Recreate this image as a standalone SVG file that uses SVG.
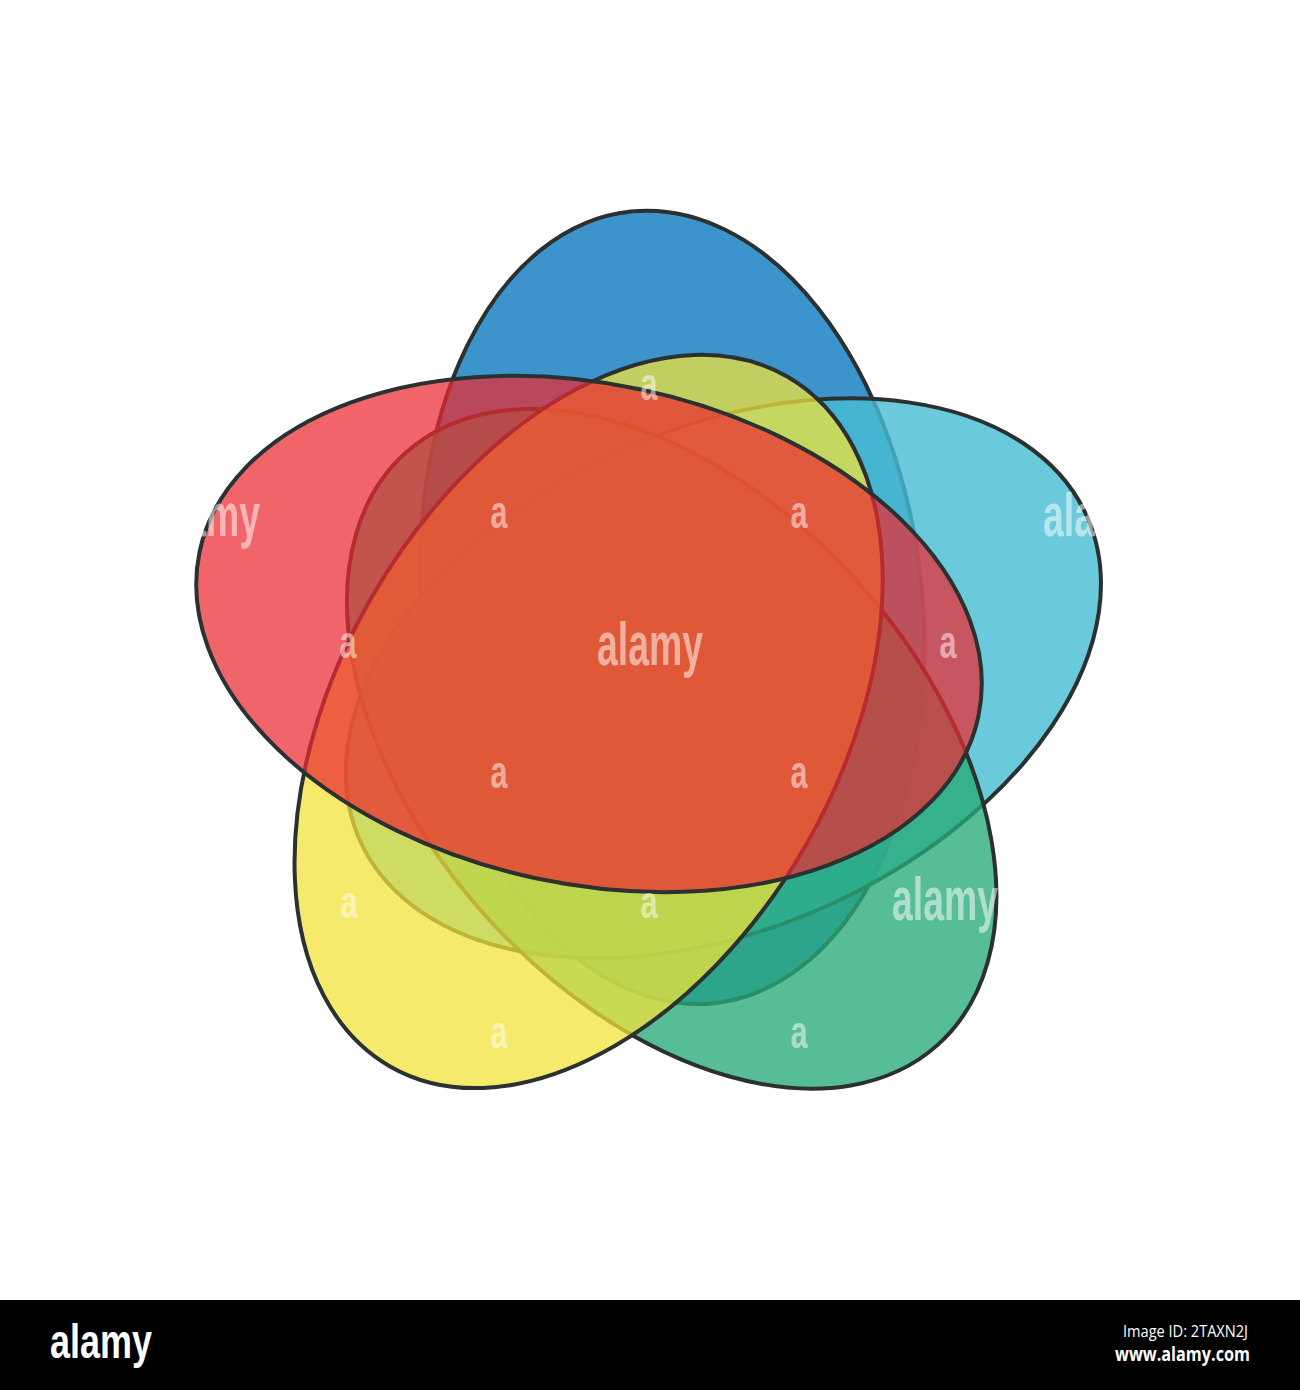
<svg xmlns="http://www.w3.org/2000/svg" width="1300" height="1390" viewBox="0 0 1300 1390">
<style>
.petal{stroke:#2b3131;stroke-width:4}
.blue{fill:#3d93cc}
.cyan{fill:#47bcd1;fill-opacity:0.81}
.teal{fill:#28aa78;fill-opacity:0.78}
.yellow{fill:#f2e338;fill-opacity:0.74}
.red{fill:#ec2a30;fill-opacity:0.72}
.wm{fill:#ffffff;fill-opacity:0.52;font-family:"Liberation Sans Narrow","Liberation Sans",sans-serif;font-weight:bold;text-anchor:middle}
.big{font-size:62px}
.small{font-size:46px}
</style>
<rect x="0" y="0" width="1300" height="1390" fill="#ffffff"/>
<g id="connectors"/>
<g id="set-blue">
<ellipse class="petal blue" cx="589" cy="634" rx="398" ry="250" transform="rotate(72 649 678) rotate(12 589 634)"/>
</g>
<g id="set-cyan">
<ellipse class="petal cyan" cx="589" cy="634" rx="398" ry="250" transform="rotate(144 649 678) rotate(12 589 634)"/>
</g>
<g id="set-teal">
<ellipse class="petal teal" cx="589" cy="634" rx="398" ry="250" transform="rotate(216 649 678) rotate(12 589 634)"/>
</g>
<g id="set-yellow">
<ellipse class="petal yellow" cx="589" cy="634" rx="398" ry="250" transform="rotate(288 649 678) rotate(12 589 634)"/>
</g>
<g id="set-red">
<ellipse class="petal red" cx="589" cy="634" rx="398" ry="250" transform="rotate(12 589 634)"/>
</g>
<g id="watermark">
<text class="wm big" x="650" y="665" textLength="106" lengthAdjust="spacingAndGlyphs">alamy</text>
<text class="wm big" x="207" y="536" textLength="106" lengthAdjust="spacingAndGlyphs">alamy</text>
<text class="wm big" x="1096" y="536" textLength="106" lengthAdjust="spacingAndGlyphs">alamy</text>
<text class="wm big" x="945" y="920" textLength="106" lengthAdjust="spacingAndGlyphs">alamy</text>
<text class="wm small" x="649" y="400" textLength="17" lengthAdjust="spacingAndGlyphs">a</text>
<text class="wm small" x="499" y="528" textLength="17" lengthAdjust="spacingAndGlyphs">a</text>
<text class="wm small" x="799" y="528" textLength="17" lengthAdjust="spacingAndGlyphs">a</text>
<text class="wm small" x="348" y="658" textLength="17" lengthAdjust="spacingAndGlyphs">a</text>
<text class="wm small" x="948" y="658" textLength="17" lengthAdjust="spacingAndGlyphs">a</text>
<text class="wm small" x="499" y="788" textLength="17" lengthAdjust="spacingAndGlyphs">a</text>
<text class="wm small" x="799" y="788" textLength="17" lengthAdjust="spacingAndGlyphs">a</text>
<text class="wm small" x="349" y="918" textLength="17" lengthAdjust="spacingAndGlyphs">a</text>
<text class="wm small" x="649" y="918" textLength="17" lengthAdjust="spacingAndGlyphs">a</text>
<text class="wm small" x="499" y="1048" textLength="17" lengthAdjust="spacingAndGlyphs">a</text>
<text class="wm small" x="799" y="1048" textLength="17" lengthAdjust="spacingAndGlyphs">a</text>
</g>
<g id="footer">
<rect x="0" y="1300" width="1300" height="90" fill="#000000"/>
<text x="50" y="1358" font-family="Liberation Sans Narrow,Liberation Sans,sans-serif" font-weight="bold" font-size="48" fill="#ffffff" textLength="102" lengthAdjust="spacingAndGlyphs">alamy</text>
<text x="1123" y="1337" font-family="Open Sans,Noto Sans,sans-serif" font-size="16" fill="#ffffff" textLength="125" lengthAdjust="spacingAndGlyphs">Image ID: 2TAXN2J</text>
<text x="1115" y="1361" font-family="Open Sans,Noto Sans,sans-serif" font-weight="bold" font-size="19" fill="#ffffff" textLength="135" lengthAdjust="spacingAndGlyphs">www.alamy.com</text>
</g>
</svg>
